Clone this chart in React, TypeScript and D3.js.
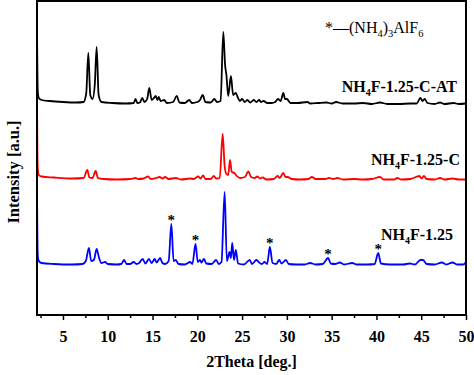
import * as d3 from "d3";
import { useEffect, useRef } from "react";

// XRD patterns: [2theta, height above baseline (a.u.)]
const blackAT: [number, number][] = [
  [2.1, 75], [2.15, 30], [2.2, 12], [2.3, 7], [2.6, 5], [3.5, 4], [5, 3], [6.5, 2.5], [7.3, 3], [7.6, 12],
  [7.83, 52], [8.05, 10], [8.3, 6], [8.55, 20], [8.76, 58], [8.98, 10], [9.3, 3], [10.5, 2], [12, 1.5], [12.9, 2],
  [13.1, 6], [13.3, 2], [13.6, 2.5], [13.85, 7], [14.1, 3], [14.4, 6], [14.64, 17], [14.9, 5], [15.15, 7], [15.35, 9],
  [15.55, 5], [15.7, 8], [15.9, 4], [16.3, 5], [16.6, 2], [17.3, 3], [17.7, 9], [18.0, 2.5], [18.6, 2], [19.1, 5],
  [19.4, 2], [20.0, 3], [20.3, 5], [20.6, 10], [20.9, 3], [21.5, 2.5], [21.9, 6], [22.2, 3], [22.6, 4], [22.9, 73],
  [23.1, 40], [23.25, 30], [23.45, 9], [23.75, 29], [24.0, 10], [24.3, 12], [24.5, 8], [24.75, 4], [25.0, 6], [25.3, 3],
  [25.6, 5], [25.9, 2.5], [26.3, 5], [26.6, 3], [26.9, 5], [27.1, 3], [27.4, 4], [27.8, 2], [28.3, 2], [28.7, 3],
  [29.0, 6], [29.3, 4], [29.6, 12], [29.8, 6], [30.0, 6], [30.4, 2], [31.2, 2], [32.3, 3], [32.6, 1.5], [33.5, 2],
  [34.4, 2.5], [35.0, 1.5], [35.5, 3], [36.2, 1.5], [37.5, 1.5], [38.5, 2], [39.5, 1], [40.4, 2.5], [41.2, 1], [42.5, 1],
  [43.8, 1.5], [44.5, 1.5], [44.9, 7], [45.15, 4], [45.4, 6], [45.7, 2], [46.5, 1], [47.1, 2.5], [47.6, 1], [48.6, 2],
  [49.2, 1], [50, 1.5],
];

const redC: [number, number][] = [
  [2.1, 80], [2.15, 25], [2.2, 10], [2.3, 5], [2.6, 3.5], [4, 2.5], [6, 1.5], [7.3, 2], [7.72, 10], [7.95, 2.5],
  [8.3, 2], [8.65, 9], [8.9, 2], [9.5, 1], [11, 0.5], [12.5, 1], [13.1, 2], [13.4, 1], [14.0, 1.5], [14.5, 3.5],
  [14.8, 1], [15.4, 2], [15.8, 3], [16.1, 1.5], [16.4, 3], [16.8, 1], [17.6, 2], [18.2, 0.5], [19.2, 1.5], [19.6, 1],
  [20.1, 3.5], [20.35, 1.5], [20.65, 4.5], [20.9, 1], [21.5, 1], [21.85, 4], [22.1, 1.5], [22.5, 2], [22.83, 46], [23.05, 14],
  [23.25, 6], [23.45, 5], [23.65, 20], [23.85, 8], [24.15, 7], [24.4, 4], [24.8, 2], [25.3, 3], [25.7, 8.5], [26.0, 3],
  [26.4, 2], [26.7, 3.5], [27.0, 1.5], [27.3, 2.5], [27.7, 0.5], [28.5, 1], [28.97, 4], [29.2, 2], [29.6, 7], [29.85, 3],
  [30.1, 3], [30.5, 1], [31.5, 0.5], [32.4, 1], [32.8, 3], [33.2, 1], [34.3, 1], [34.7, 2], [35.2, 1], [35.6, 2],
  [36.3, 0.5], [37.5, 1], [38.5, 0.5], [39.5, 1], [40.4, 3], [40.8, 0.5], [42, 0.5], [42.3, 2], [42.8, 0.5], [43.8, 1],
  [44.8, 4], [45.05, 1.5], [45.3, 4], [45.6, 1], [46.5, 0.5], [47.1, 2], [47.6, 0.5], [48.5, 1.5], [49.2, 0.5], [50, 0.5],
];

const blue125: [number, number][] = [
  [2.1, 72], [2.15, 25], [2.2, 8], [2.3, 4], [2.6, 2], [4, 1], [6, 0.5], [7.2, 1], [7.55, 4], [7.9, 17],
  [8.15, 4], [8.45, 5], [8.76, 16], [9.0, 8], [9.3, 2], [9.7, 3], [10.0, 1], [11.0, 0.5], [11.5, 1], [11.84, 5],
  [12.1, 1], [12.5, 1], [12.9, 3], [13.2, 1], [13.5, 2], [13.9, 6], [14.2, 1.5], [14.6, 6], [14.9, 2], [15.25, 6],
  [15.45, 2.5], [15.85, 7], [16.1, 2], [16.4, 1], [16.8, 4], [17.1, 41], [17.35, 4], [17.6, 5], [17.9, 1], [18.6, 0.5],
  [19.2, 3], [19.45, 1], [19.8, 21], [20.05, 3], [20.3, 5], [20.45, 2.5], [20.75, 6], [21.0, 1.5], [21.6, 1], [22.1, 5],
  [22.4, 1], [22.7, 3], [23.05, 73], [23.3, 4], [23.6, 13], [23.75, 7], [23.9, 22], [24.1, 5], [24.3, 15], [24.55, 1.5],
  [25.2, 0.5], [25.85, 5], [26.1, 1], [26.6, 5], [26.85, 3], [27.2, 1], [27.5, 3], [27.8, 1], [28.1, 18], [28.4, 2],
  [28.8, 1], [29.15, 5], [29.4, 1.5], [29.9, 5], [30.2, 1], [31, 0.5], [32.0, 0.5], [32.6, 2], [33.2, 0.5], [34.0, 1],
  [34.6, 7], [34.9, 1.5], [35.4, 1], [35.9, 2.5], [36.4, 0.5], [37.3, 2], [37.8, 0.5], [39.0, 0.5], [39.8, 1], [40.2, 12],
  [40.5, 1.5], [41.5, 0.5], [43.0, 0.5], [43.7, 1.5], [44.3, 0.5], [44.9, 5], [45.2, 5], [45.6, 1], [46.5, 0.5], [47.3, 2.5],
  [47.8, 0.5], [48.5, 2.5], [49.0, 0.5], [49.7, 0.5], [50, 3],
];

const seriesNames = ["NH4F-1.25-C-AT", "NH4F-1.25-C", "NH4F-1.25"];
const seriesData = [blackAT, redC, blue125];
const seriesColors = ["#000000", "#ff0000", "#0000ff"];
const seriesOffsets = [210, 135, 50];
const labelY = [92, 165, 240];
const labelX = [457, 460, 453];

const starPeaks = [17.1, 19.8, 28.1, 34.6, 40.2];
const majorTicks = [5, 10, 15, 20, 25, 30, 35, 40, 45, 50];
const minorTicks = [2.5, 7.5, 12.5, 17.5, 22.5, 27.5, 32.5, 37.5, 42.5, 47.5];

const W = 474;
const H = 375;
const margin = { top: 1, right: 8, bottom: 60, left: 37 };
const FONT = "'Liberation Serif', 'Times New Roman', serif";

const App = () => {
  const ref = useRef<SVGSVGElement | null>(null);

  useEffect(() => {
    const svg = d3.select(ref.current);
    svg.selectAll("*").remove();

    const x = d3.scaleLinear().domain([2.1, 50]).range([margin.left, W - margin.right]);
    const y = d3.scaleLinear().domain([0, 314]).range([H - margin.bottom, margin.top]);

    const g = svg.append("g");

    seriesData.forEach((data, i) => {
      const line = d3
        .line<[number, number]>()
        .x((d) => x(d[0]))
        .y((d) => y(d[1] + seriesOffsets[i]))
        .curve(d3.curveMonotoneX);
      g.append("path")
        .datum(data)
        .attr("d", line)
        .attr("fill", "none")
        .attr("stroke", seriesColors[i])
        .attr("stroke-width", 1.8)
        .attr("stroke-linejoin", "round");
    });

    // stars over (NH4)3AlF6 peaks
    starPeaks.forEach((p) => {
      const pt = blue125.reduce((a, b) => (Math.abs(b[0] - p) < Math.abs(a[0] - p) ? b : a));
      g.append("text")
        .attr("x", x(p))
        .attr("y", y(pt[1] + seriesOffsets[2]) + 1)
        .attr("text-anchor", "middle")
        .attr("font-family", FONT)
        .attr("font-weight", "bold")
        .attr("font-size", 15)
        .text("*");
    });

    // frame
    svg.append("rect")
      .attr("x", margin.left)
      .attr("y", margin.top)
      .attr("width", W - margin.left - margin.right)
      .attr("height", H - margin.top - margin.bottom)
      .attr("fill", "none")
      .attr("stroke", "#000")
      .attr("stroke-width", 2);

    const xAxis = d3.axisBottom(x).tickValues(majorTicks).tickSize(5).tickFormat(d3.format("d"));
    const ax = svg.append("g").attr("transform", `translate(0, ${H - margin.bottom})`).call(xAxis);
    ax.select(".domain").remove();
    ax.selectAll("line").attr("stroke-width", 1.5);
    ax.selectAll("text")
      .attr("font-family", FONT)
      .attr("font-weight", "bold")
      .attr("font-size", 16)
      .attr("dy", "1.2em");

    const minorAxis = d3.axisBottom(x).tickValues(minorTicks).tickSize(3).tickFormat(() => "");
    const mx = svg.append("g").attr("transform", `translate(0, ${H - margin.bottom})`).call(minorAxis);
    mx.select(".domain").remove();
    mx.selectAll("line").attr("stroke-width", 1.5);

    // axis titles
    svg.append("text")
      .attr("x", (margin.left + W - margin.right) / 2)
      .attr("y", 367)
      .attr("text-anchor", "middle")
      .attr("font-family", FONT)
      .attr("font-weight", "bold")
      .attr("font-size", 16)
      .text("2Theta [deg.]");

    svg.append("text")
      .attr("transform", `translate(19, 172) rotate(-90)`)
      .attr("text-anchor", "middle")
      .attr("font-family", FONT)
      .attr("font-weight", "bold")
      .attr("font-size", 16.5)
      .text("Intensity [a.u.]");

    // series labels with subscript 4
    seriesNames.forEach((name, i) => {
      const t = svg.append("text")
        .attr("x", labelX[i])
        .attr("y", labelY[i])
        .attr("text-anchor", "end")
        .attr("font-family", FONT)
        .attr("font-weight", "bold")
        .attr("font-size", 16);
      t.append("tspan").text("NH");
      t.append("tspan").attr("font-size", 10).attr("dy", 4).text("4");
      t.append("tspan").attr("dy", -4).text(name.slice(3));
    });

    // legend note
    const n = svg.append("text")
      .attr("x", 325)
      .attr("y", 33)
      .attr("font-family", FONT)
      .attr("font-size", 16);
    n.append("tspan").text("*—(NH");
    n.append("tspan").attr("font-size", 10.5).attr("dy", 4).text("4");
    n.append("tspan").attr("dy", -4).text(")");
    n.append("tspan").attr("font-size", 10.5).attr("dy", 4).text("3");
    n.append("tspan").attr("dy", -4).text("AlF");
    n.append("tspan").attr("font-size", 10.5).attr("dy", 4).text("6");
  }, []);

  return (
    <div style={{ position: "absolute", left: 0, top: 0 }}>
      <svg ref={ref} width={W} height={H} style={{ display: "block", background: "#fff" }} />
    </div>
  );
};

export default App;
